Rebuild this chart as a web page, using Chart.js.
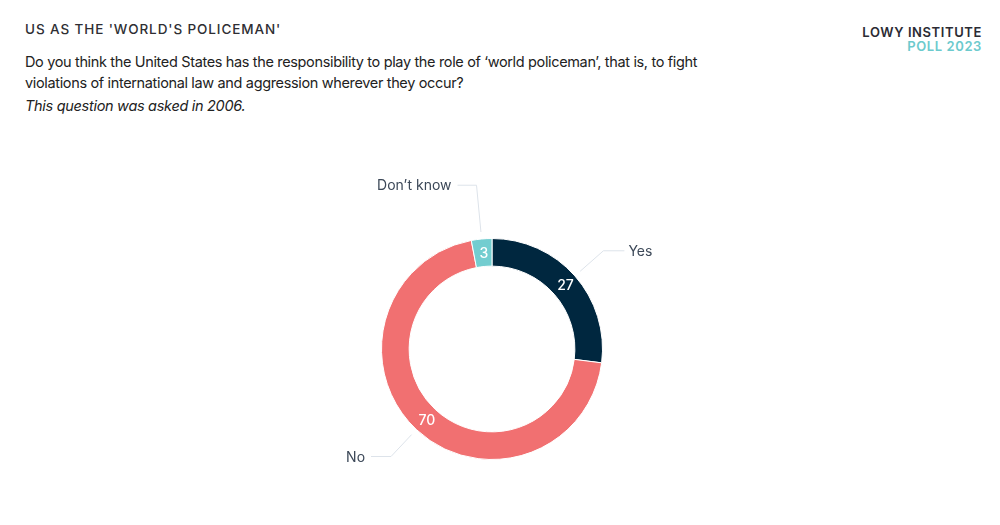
<!DOCTYPE html>
<html>
<head>
<meta charset="utf-8">
<script src="https://cdn.jsdelivr.net/npm/chart.js@4.4.1/dist/chart.umd.min.js"></script>
<style>
  html, body { margin: 0; padding: 0; background: #fff; }
  body { width: 1000px; height: 525px; position: relative; overflow: hidden; font-family: Inter, "Noto Sans", sans-serif; }
  .t { position: absolute; white-space: nowrap; }
  #title { left: 25px; top: 21px; font-size: 13.5px; font-weight: 500; letter-spacing: 0.9px; color: #2e2e33; }
  #sub { left: 25px; top: 51px; font-size: 14.5px; line-height: 21px; letter-spacing: -0.35px; color: #222; }
  #note { left: 25px; top: 97px; font-size: 14.5px; font-style: italic; letter-spacing: -0.3px; color: #222; }
  #brand1 { right: 18px; top: 24px; font-size: 13px; font-weight: 600; letter-spacing: 0.6px; color: #2b2b33; }
  #brand2 { right: 18px; top: 38px; font-size: 13px; font-weight: 600; letter-spacing: 0.6px; color: #6ccacd; }
  canvas { position: absolute; left: 0; top: 0; }
</style>
</head>
<body>
<div class="t" id="title">US AS THE 'WORLD'S POLICEMAN'</div>
<div class="t" id="sub">Do you think the United States has the responsibility to play the role of ‘world policeman’, that is, to fight<br>violations of international law and aggression wherever they occur?</div>
<div class="t" id="note">This question was asked in 2006.</div>
<div class="t" id="brand1">LOWY INSTITUTE</div>
<div class="t" id="brand2">POLL 2023</div>
<canvas id="c" width="1000" height="525"></canvas>
<script>
const categories = ["Yes", "No", "Don\u2019t know"];
const values = [27, 70, 3];
const colors = ["#00273f", "#f17071", "#73cdd0"];

// connector styling per slice (extra radius to elbow, horizontal run)
const connectorElbow = [38, 37, 54];
const connectorRun = [21, 20, 19];

const calloutPlugin = {
  id: 'callouts',
  afterDatasetsDraw(chart) {
    const ctx = chart.ctx;
    const meta = chart.getDatasetMeta(0);
    meta.data.forEach((arc, i) => {
      const p = arc.getProps(['x','y','startAngle','endAngle','innerRadius','outerRadius']);
      const mid = (p.startAngle + p.endAngle) / 2;
      const cos = Math.cos(mid), sin = Math.sin(mid);
      const rm = (p.innerRadius + p.outerRadius) / 2;
      ctx.save();
      ctx.fillStyle = '#ffffff';
      ctx.font = '500 14px Inter, "Noto Sans", sans-serif';
      ctx.textAlign = 'center';
      ctx.textBaseline = 'middle';
      ctx.fillText(String(values[i]), p.x + rm * cos + 1, p.y + rm * sin + 1);
      const r1 = p.outerRadius + 7, r2 = p.outerRadius + connectorElbow[i];
      const x1 = p.x + r1 * cos, y1 = p.y + r1 * sin;
      const x2 = p.x + r2 * cos, y2 = p.y + r2 * sin;
      const right = cos >= 0;
      const x3 = x2 + (right ? connectorRun[i] : -connectorRun[i]);
      ctx.strokeStyle = '#dde3ea';
      ctx.lineWidth = 1;
      ctx.beginPath();
      ctx.moveTo(x1, y1);
      ctx.lineTo(x2, y2);
      ctx.lineTo(x3, y2);
      ctx.stroke();
      ctx.fillStyle = '#3c4858';
      ctx.font = '14px Inter, "Noto Sans", sans-serif';
      ctx.textAlign = right ? 'left' : 'right';
      ctx.fillText(categories[i], x3 + (right ? 4 : -6), y2 + 1);
      ctx.restore();
    });
  }
};

new Chart(document.getElementById('c'), {
  type: 'doughnut',
  data: {
    labels: categories,
    datasets: [{
      data: values,
      backgroundColor: colors,
      borderColor: '#ffffff',
      borderWidth: 1,
      hoverOffset: 0
    }]
  },
  options: {
    responsive: false,
    devicePixelRatio: 1,
    animation: false,
    cutout: '75%',
    layout: { padding: { top: 238, bottom: 65, left: 0, right: 16 } },
    plugins: { legend: { display: false }, tooltip: { enabled: false }, title: { display: false } }
  },
  plugins: [calloutPlugin]
});
</script>
</body>
</html>
